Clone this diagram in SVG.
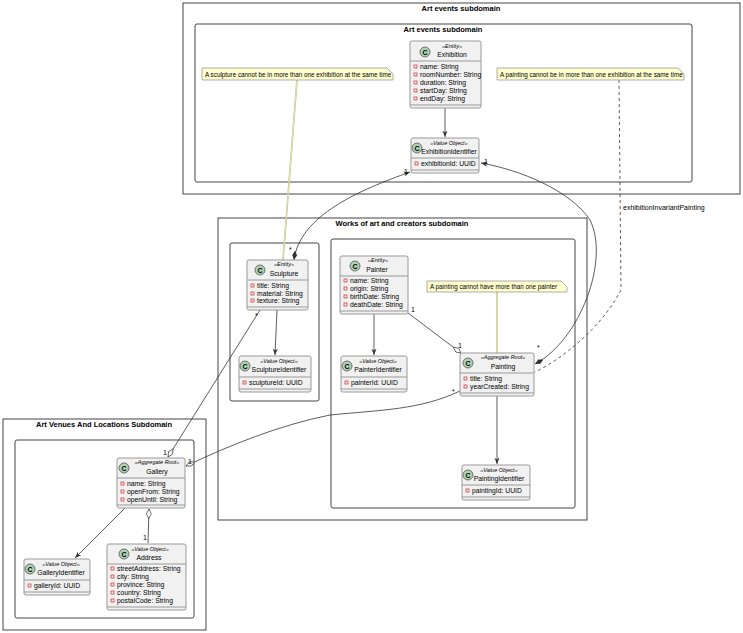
<svg xmlns="http://www.w3.org/2000/svg" width="743" height="633" viewBox="0 0 743 633">
<style>
text{font-family:"Liberation Sans",Arial,sans-serif;fill:#000}
.pk{fill:none;stroke:#444;stroke-width:1}
.pt{font-size:7.5px;font-weight:bold;text-anchor:middle}
.cls{fill:#f1f1f1;stroke:#999;stroke-width:1}
.sep{stroke:#999;stroke-width:1}
.st{font-size:5.5px;font-style:italic;text-anchor:middle}
.nm{font-size:6.8px;text-anchor:middle}
.at{font-size:6.8px}
.ci{fill:#add1b2;stroke:#555;stroke-width:0.8}
.cc{font-size:7px;font-weight:bold;text-anchor:middle}
.ab{fill:none;stroke:#c82930;stroke-width:0.7}
.note{fill:#fefece;stroke:#999;stroke-width:0.8}
.nt{font-size:6.3px}
.ln{fill:none;stroke:#333;stroke-width:0.8}
.lb{font-size:7px}
</style>
<defs>
<marker id="ar" viewBox="0 0 10 10" refX="10" refY="5" markerWidth="8" markerHeight="8" orient="auto-start-reverse"><path d="M0,1 L10,5 L0,9 L3,5 Z" fill="#333"/></marker>
<marker id="cd" viewBox="0 0 14 8" refX="14" refY="4" markerWidth="12" markerHeight="7" orient="auto-start-reverse"><path d="M0,4 L7,0.5 L14,4 L7,7.5 Z" fill="#333"/></marker>
<marker id="od" viewBox="0 0 14 8" refX="14" refY="4" markerWidth="12" markerHeight="7" orient="auto-start-reverse"><path d="M0,4 L7,0.5 L14,4 L7,7.5 Z" fill="#fff" stroke="#333"/></marker>
</defs>

<g id="packages">
<rect class="pk" x="183" y="3" width="557" height="191"/><text class="pt" x="461" y="11">Art events subdomain</text>
<rect class="pk" x="195" y="24" width="497" height="158" rx="2"/><text class="pt" x="443" y="32">Art events subdomain</text>
<rect class="pk" x="218" y="218" width="369" height="302"/><text class="pt" x="402" y="226">Works of art and creators subdomain</text>
<rect class="pk" x="230" y="243" width="89" height="158" rx="2"/>
<rect class="pk" x="331" y="239" width="244" height="269" rx="2"/>
<rect class="pk" x="3" y="419" width="203" height="211"/><text class="pt" x="104" y="427">Art Venues And Locations Subdomain</text>
<rect class="pk" x="15" y="440" width="179" height="178" rx="2"/>
</g>

<g id="connectors">
<path class="ln" d="M445,108 L445,137" marker-end="url(#ar)"/>
<path class="ln" d="M294,260 C300,215 360,190 410,172" marker-start="url(#cd)" marker-end="url(#ar)"/>
<path class="ln" d="M535,364 C580,340 610,260 590,220 C570,190 520,170 481,163" marker-start="url(#cd)" marker-end="url(#ar)"/>
<path class="ln" d="M619,80 L621,290 C600,330 560,360 535,372" stroke-dasharray="3,3"/>
<path d="M297,80 L283,260" fill="none" stroke="#b8b880" stroke-width="1.6"/>
<path d="M297,80 L283,260" fill="none" stroke="#fefece" stroke-width="0.6"/>
<path d="M497,291 L497,353" fill="none" stroke="#b8b880" stroke-width="1.6"/>
<path d="M497,291 L497,353" fill="none" stroke="#fefece" stroke-width="0.6"/>
<path class="ln" d="M277,310 L275,355" marker-end="url(#ar)"/>
<path class="ln" d="M374,314 L374,355" marker-end="url(#ar)"/>
<path class="ln" d="M408,313 L461,353" marker-end="url(#od)"/>
<path class="ln" d="M497,396 L497,464" marker-end="url(#ar)"/>
<path class="ln" d="M260,310 L168,457" marker-end="url(#od)"/>
<path class="ln" d="M460,391 C420,410 380,410 330,415 C280,425 230,445 186,466" marker-end="url(#od)"/>
<path class="ln" d="M125,508 L75,558" marker-end="url(#ar)"/>
<path class="ln" d="M148,543 L149,509" marker-end="url(#od)"/>
<text class="lb" x="289" y="252">*</text><text class="lb" x="404" y="174">1</text>
<text class="lb" x="484" y="164">1</text><text class="lb" x="537" y="350">*</text>
<text class="lb" x="623" y="210">exhibitionInvariantPainting</text>
<text class="lb" x="411" y="312">1</text><text class="lb" x="458" y="348">1</text>
<text class="lb" x="163" y="455">1</text><text class="lb" x="255" y="318">*</text>
<text class="lb" x="452" y="394">*</text><text class="lb" x="188" y="464">1</text>
<text class="lb" x="143" y="540">1</text>
</g>

<g id="note-sculpture"><path class="note" d="M202,68 H387 L393,74 V80 H202 Z"/><text class="nt" x="205" y="76.5">A sculpture cannot be in more than one exhibition at the same time</text></g>
<g id="note-painting"><path class="note" d="M497,68 H678 L684,74 V80 H497 Z"/><text class="nt" x="500" y="76.5">A painting cannot be in more than one exhibition at the same time</text></g>
<g id="note-painter"><path class="note" d="M427,281 H561 L567,287 V292 H427 Z"/><text class="nt" x="430" y="289">A painting cannot have more than one painter</text></g>

<g id="Exhibition"><rect class="cls" x="410" y="41" width="71" height="67" rx="2"/><line class="sep" x1="410" y1="61" x2="481" y2="61"/><line class="sep" x1="410" y1="105" x2="481" y2="105"/>
<circle class="ci" cx="425" cy="52" r="5"/><text class="cc" x="425" y="54.5">C</text><text class="st" x="452" y="48">«Entity»</text><text class="nm" x="452" y="57">Exhibition</text>
<rect class="ab" x="414" y="65" width="3" height="3"/><text class="at" x="420" y="69">name: String</text>
<rect class="ab" x="414" y="73" width="3" height="3"/><text class="at" x="420" y="77">roomNumber: String</text>
<rect class="ab" x="414" y="81" width="3" height="3"/><text class="at" x="420" y="85">duration: String</text>
<rect class="ab" x="414" y="89" width="3" height="3"/><text class="at" x="420" y="93">startDay: String</text>
<rect class="ab" x="414" y="97" width="3" height="3"/><text class="at" x="420" y="101">endDay: String</text></g>

<g id="ExhibitionIdentifier"><rect class="cls" x="411" y="138" width="68" height="35" rx="2"/><line class="sep" x1="411" y1="158" x2="479" y2="158"/><line class="sep" x1="411" y1="170" x2="479" y2="170"/>
<circle class="ci" cx="417" cy="148" r="5"/><text class="cc" x="417" y="150.5">C</text><text class="st" x="449" y="145">«Value Object»</text><text class="nm" x="449" y="154">ExhibitionIdentifier</text>
<rect class="ab" x="415" y="162" width="3" height="3"/><text class="at" x="421" y="166">exhibitionId: UUID</text></g>

<g id="Sculpture"><rect class="cls" x="247" y="260" width="61" height="50" rx="2"/><line class="sep" x1="247" y1="280" x2="308" y2="280"/><line class="sep" x1="247" y1="307" x2="308" y2="307"/>
<circle class="ci" cx="260" cy="270" r="5"/><text class="cc" x="260" y="272.5">C</text><text class="st" x="284" y="266">«Entity»</text><text class="nm" x="284" y="276">Sculpture</text>
<rect class="ab" x="251" y="284" width="3" height="3"/><text class="at" x="257" y="288">title: String</text>
<rect class="ab" x="251" y="292" width="3" height="3"/><text class="at" x="257" y="296">material: String</text>
<rect class="ab" x="251" y="299" width="3" height="3"/><text class="at" x="257" y="303">texture: String</text></g>

<g id="SculptureIdentifier"><rect class="cls" x="239" y="356" width="72" height="36" rx="2"/><line class="sep" x1="239" y1="377" x2="311" y2="377"/><line class="sep" x1="239" y1="389" x2="311" y2="389"/>
<circle class="ci" cx="245" cy="366" r="5"/><text class="cc" x="245" y="368.5">C</text><text class="st" x="279" y="363">«Value Object»</text><text class="nm" x="279" y="372">SculptureIdentifier</text>
<rect class="ab" x="243" y="381" width="3" height="3"/><text class="at" x="249" y="385">sculptureId: UUID</text></g>

<g id="Painter"><rect class="cls" x="340" y="256" width="68" height="58" rx="2"/><line class="sep" x1="340" y1="276" x2="408" y2="276"/><line class="sep" x1="340" y1="311" x2="408" y2="311"/>
<circle class="ci" cx="355" cy="266" r="5"/><text class="cc" x="355" y="268.5">C</text><text class="st" x="378" y="262">«Entity»</text><text class="nm" x="377" y="272">Painter</text>
<rect class="ab" x="344" y="279" width="3" height="3"/><text class="at" x="350" y="283">name: String</text>
<rect class="ab" x="344" y="287" width="3" height="3"/><text class="at" x="350" y="291">origin: String</text>
<rect class="ab" x="344" y="295" width="3" height="3"/><text class="at" x="350" y="299">birthDate: String</text>
<rect class="ab" x="344" y="303" width="3" height="3"/><text class="at" x="350" y="307">deathDate: String</text></g>

<g id="PainterIdentifier"><rect class="cls" x="341" y="356" width="66" height="36" rx="2"/><line class="sep" x1="341" y1="377" x2="407" y2="377"/><line class="sep" x1="341" y1="389" x2="407" y2="389"/>
<circle class="ci" cx="347" cy="366" r="5"/><text class="cc" x="347" y="368.5">C</text><text class="st" x="378" y="363">«Value Object»</text><text class="nm" x="378" y="372">PainterIdentifier</text>
<rect class="ab" x="345" y="381" width="3" height="3"/><text class="at" x="351" y="385">painterId: UUID</text></g>

<g id="Painting"><rect class="cls" x="460" y="353" width="74" height="43" rx="2"/><line class="sep" x1="460" y1="373" x2="534" y2="373"/><line class="sep" x1="460" y1="393" x2="534" y2="393"/>
<circle class="ci" cx="468" cy="363" r="5"/><text class="cc" x="468" y="365.5">C</text><text class="st" x="503" y="359">«Aggregate Root»</text><text class="nm" x="503" y="369">Painting</text>
<rect class="ab" x="464" y="377" width="3" height="3"/><text class="at" x="470" y="381">title: String</text>
<rect class="ab" x="464" y="385" width="3" height="3"/><text class="at" x="470" y="389">yearCreated: String</text></g>

<g id="PaintingIdentifier"><rect class="cls" x="462" y="465" width="68" height="35" rx="2"/><line class="sep" x1="462" y1="485" x2="530" y2="485"/><line class="sep" x1="462" y1="497" x2="530" y2="497"/>
<circle class="ci" cx="468" cy="475" r="5"/><text class="cc" x="468" y="477.5">C</text><text class="st" x="499" y="472">«Value Object»</text><text class="nm" x="499" y="481">PaintingIdentifier</text>
<rect class="ab" x="466" y="489" width="3" height="3"/><text class="at" x="472" y="493">paintingId: UUID</text></g>

<g id="Gallery"><rect class="cls" x="117" y="458" width="68" height="50" rx="2"/><line class="sep" x1="117" y1="478" x2="185" y2="478"/><line class="sep" x1="117" y1="505" x2="185" y2="505"/>
<circle class="ci" cx="124" cy="468" r="5"/><text class="cc" x="124" y="470.5">C</text><text class="st" x="157" y="464">«Aggregate Root»</text><text class="nm" x="157" y="474">Gallery</text>
<rect class="ab" x="121" y="482" width="3" height="3"/><text class="at" x="127" y="486">name: String</text>
<rect class="ab" x="121" y="490" width="3" height="3"/><text class="at" x="127" y="494">openFrom: String</text>
<rect class="ab" x="121" y="498" width="3" height="3"/><text class="at" x="127" y="502">openUntil: String</text></g>

<g id="GalleryIdentifier"><rect class="cls" x="24" y="559" width="66" height="36" rx="2"/><line class="sep" x1="24" y1="580" x2="90" y2="580"/><line class="sep" x1="24" y1="592" x2="90" y2="592"/>
<circle class="ci" cx="30" cy="569" r="5"/><text class="cc" x="30" y="571.5">C</text><text class="st" x="61" y="566">«Value Object»</text><text class="nm" x="61" y="575">GalleryIdentifier</text>
<rect class="ab" x="28" y="584" width="3" height="3"/><text class="at" x="34" y="588">galleryId: UUID</text></g>

<g id="Address"><rect class="cls" x="107" y="544" width="79" height="66" rx="2"/><line class="sep" x1="107" y1="564" x2="186" y2="564"/><line class="sep" x1="107" y1="607" x2="186" y2="607"/>
<circle class="ci" cx="124" cy="554" r="5"/><text class="cc" x="124" y="556.5">C</text><text class="st" x="150" y="551">«Value Object»</text><text class="nm" x="149" y="560">Address</text>
<rect class="ab" x="111" y="567" width="3" height="3"/><text class="at" x="117" y="571">streetAddress: String</text>
<rect class="ab" x="111" y="575" width="3" height="3"/><text class="at" x="117" y="579">city: String</text>
<rect class="ab" x="111" y="583" width="3" height="3"/><text class="at" x="117" y="587">province: String</text>
<rect class="ab" x="111" y="591" width="3" height="3"/><text class="at" x="117" y="595">country: String</text>
<rect class="ab" x="111" y="599" width="3" height="3"/><text class="at" x="117" y="603">postalCode: String</text></g>
</svg>
